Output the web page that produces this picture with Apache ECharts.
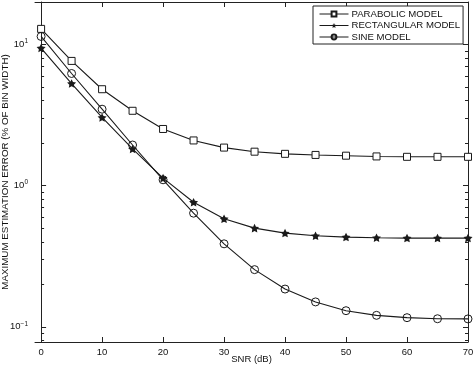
<!DOCTYPE html>
<html><head><meta charset="utf-8">
<script src="https://cdn.jsdelivr.net/npm/echarts@6/dist/echarts.min.js"></script>
<style>html,body{margin:0;padding:0;background:#fff}#c{width:474px;height:368px}</style>
</head><body><div id="c"></div>
<script>
var snr = [0,5,10,15,20,25,30,35,40,45,50,55,60,65,70];
var parabolic = [12.9,7.65,4.82,3.39,2.52,2.09,1.86,1.74,1.68,1.65,1.63,1.61,1.60,1.60,1.60];
var rectangular = [9.44,5.29,3.04,1.82,1.13,0.763,0.582,0.500,0.461,0.441,0.432,0.427,0.425,0.425,0.425];
var sine = [11.4,6.23,3.48,1.94,1.10,0.638,0.387,0.254,0.185,0.150,0.130,0.1205,0.116,0.114,0.1137];
var seriesNames = ['PARABOLIC MODEL','RECTANGULAR MODEL','SINE MODEL'];
var xTicks = [0,10,20,30,40,50,60,70];
var yMajor = [0.1,1,10];
var yMinor = [0.08,0.09,0.2,0.3,0.4,0.5,0.6,0.7,0.8,0.9,2,3,4,5,6,7,8,9,20];
var yLabels = {0.1:'{b|10}{s|−1}', 1:'{b|10}{s|0}', 10:'{b|10}{s|1}'};

var FONT = '"Liberation Sans", Arial, sans-serif';
var star = 'path://M0,-10 L2.94,-4.05 L9.51,-3.09 L4.76,1.55 L5.88,8.09 L0,5 L-5.88,8.09 L-4.76,1.55 L-9.51,-3.09 L-2.94,-4.05 Z';
function pairs(ys){ return snr.map(function(x,i){return [x, ys[i]];}); }
var lineC = '#1a1a1a';
function yAx(pos, ticks, len, labels, showLine){
  return {
    type:'log', logBase:10, min:0.078, max:20, position:pos,
    axisLine:{show:showLine, lineStyle:{color:'#222', width:1}},
    axisTick:{show:true, inside:true, length:len, customValues:ticks, lineStyle:{color:'#222', width:1}},
    axisLabel:{show:labels, customValues:yMajor, margin:7, fontFamily:FONT,
      formatter:function(v){ var k = Math.round(Math.log10(v)); return k===-1?yLabels[0.1]:(k===0?yLabels[1]:yLabels[10]); },
      rich:{b:{fontSize:9.5, fontFamily:FONT, color:'#111'}, s:{fontSize:6.5, fontFamily:FONT, color:'#111', verticalAlign:'top', padding:[0,0,6,0]}}},
    splitLine:{show:false}, minorTick:{show:false},
    name: labels ? 'MAXIMUM ESTIMATION ERROR (% OF BIN WIDTH)' : '',
    nameLocation:'middle', nameGap:25, nameRotate:90, nameMoveOverlap:false,
    nameTextStyle:{fontSize:9.8, fontFamily:FONT, color:'#111'}
  };
}
function xAx(pos, labels){
  return {
    type:'value', min:-1, max:70, position:pos,
    axisLine:{show:true, onZero:false, lineStyle:{color:'#222', width:1}},
    axisTick:{show:true, inside:true, length:5, customValues:xTicks, lineStyle:{color:'#222'}},
    axisLabel:{show:labels, customValues:xTicks, margin:5, fontSize:9.5, fontFamily:FONT, color:'#111'},
    splitLine:{show:false},
    name: labels ? 'SNR (dB)' : '', nameLocation:'middle', nameGap:12, nameMoveOverlap:false,
    nameTextStyle:{fontSize:9.5, fontFamily:FONT, color:'#111'}
  };
}
var chart = echarts.init(document.getElementById('c'));
chart.setOption({
  animation:false,
  backgroundColor:'#fff',
  grid:{left:35, right:6, top:2, bottom:26, outerBoundsMode:'none', containLabel:false},
  xAxis:[xAx('bottom', true), xAx('top', false)],
  yAxis:[yAx('left', yMajor, 5, true, true), yAx('left', yMinor, 3, false, false),
         yAx('right', yMajor, 5, false, true), yAx('right', yMinor, 3, false, false)],
  legend:{
    orient:'vertical', left:313, top:6, itemGap:1.5, itemWidth:29, itemHeight:6,
    padding:[3,3,2,6], backgroundColor:'#fff', borderColor:'#222', borderWidth:1,
    lineStyle:{width:1},
    textStyle:{fontSize:9.6, fontFamily:FONT, color:'#111', padding:[0,0,0,-2]},
    data:seriesNames
  },
  series:[
    {name:seriesNames[0], type:'line', data:pairs(parabolic), symbol:'rect', symbolSize:7,
     lineStyle:{color:lineC, width:1.1}, itemStyle:{color:'#fff', borderColor:lineC, borderWidth:1}, z:3},
    {name:seriesNames[1], type:'line', data:pairs(rectangular), symbol:star, symbolSize:9, symbolKeepAspect:true,
     lineStyle:{color:lineC, width:1.1}, itemStyle:{color:lineC, borderColor:lineC, borderWidth:0}, z:3},
    {name:seriesNames[2], type:'line', data:pairs(sine), symbol:'circle', symbolSize:8,
     lineStyle:{color:lineC, width:1.1}, itemStyle:{color:'rgba(255,255,255,0)', borderColor:lineC, borderWidth:1}, z:3}
  ]
});
</script></body></html>
